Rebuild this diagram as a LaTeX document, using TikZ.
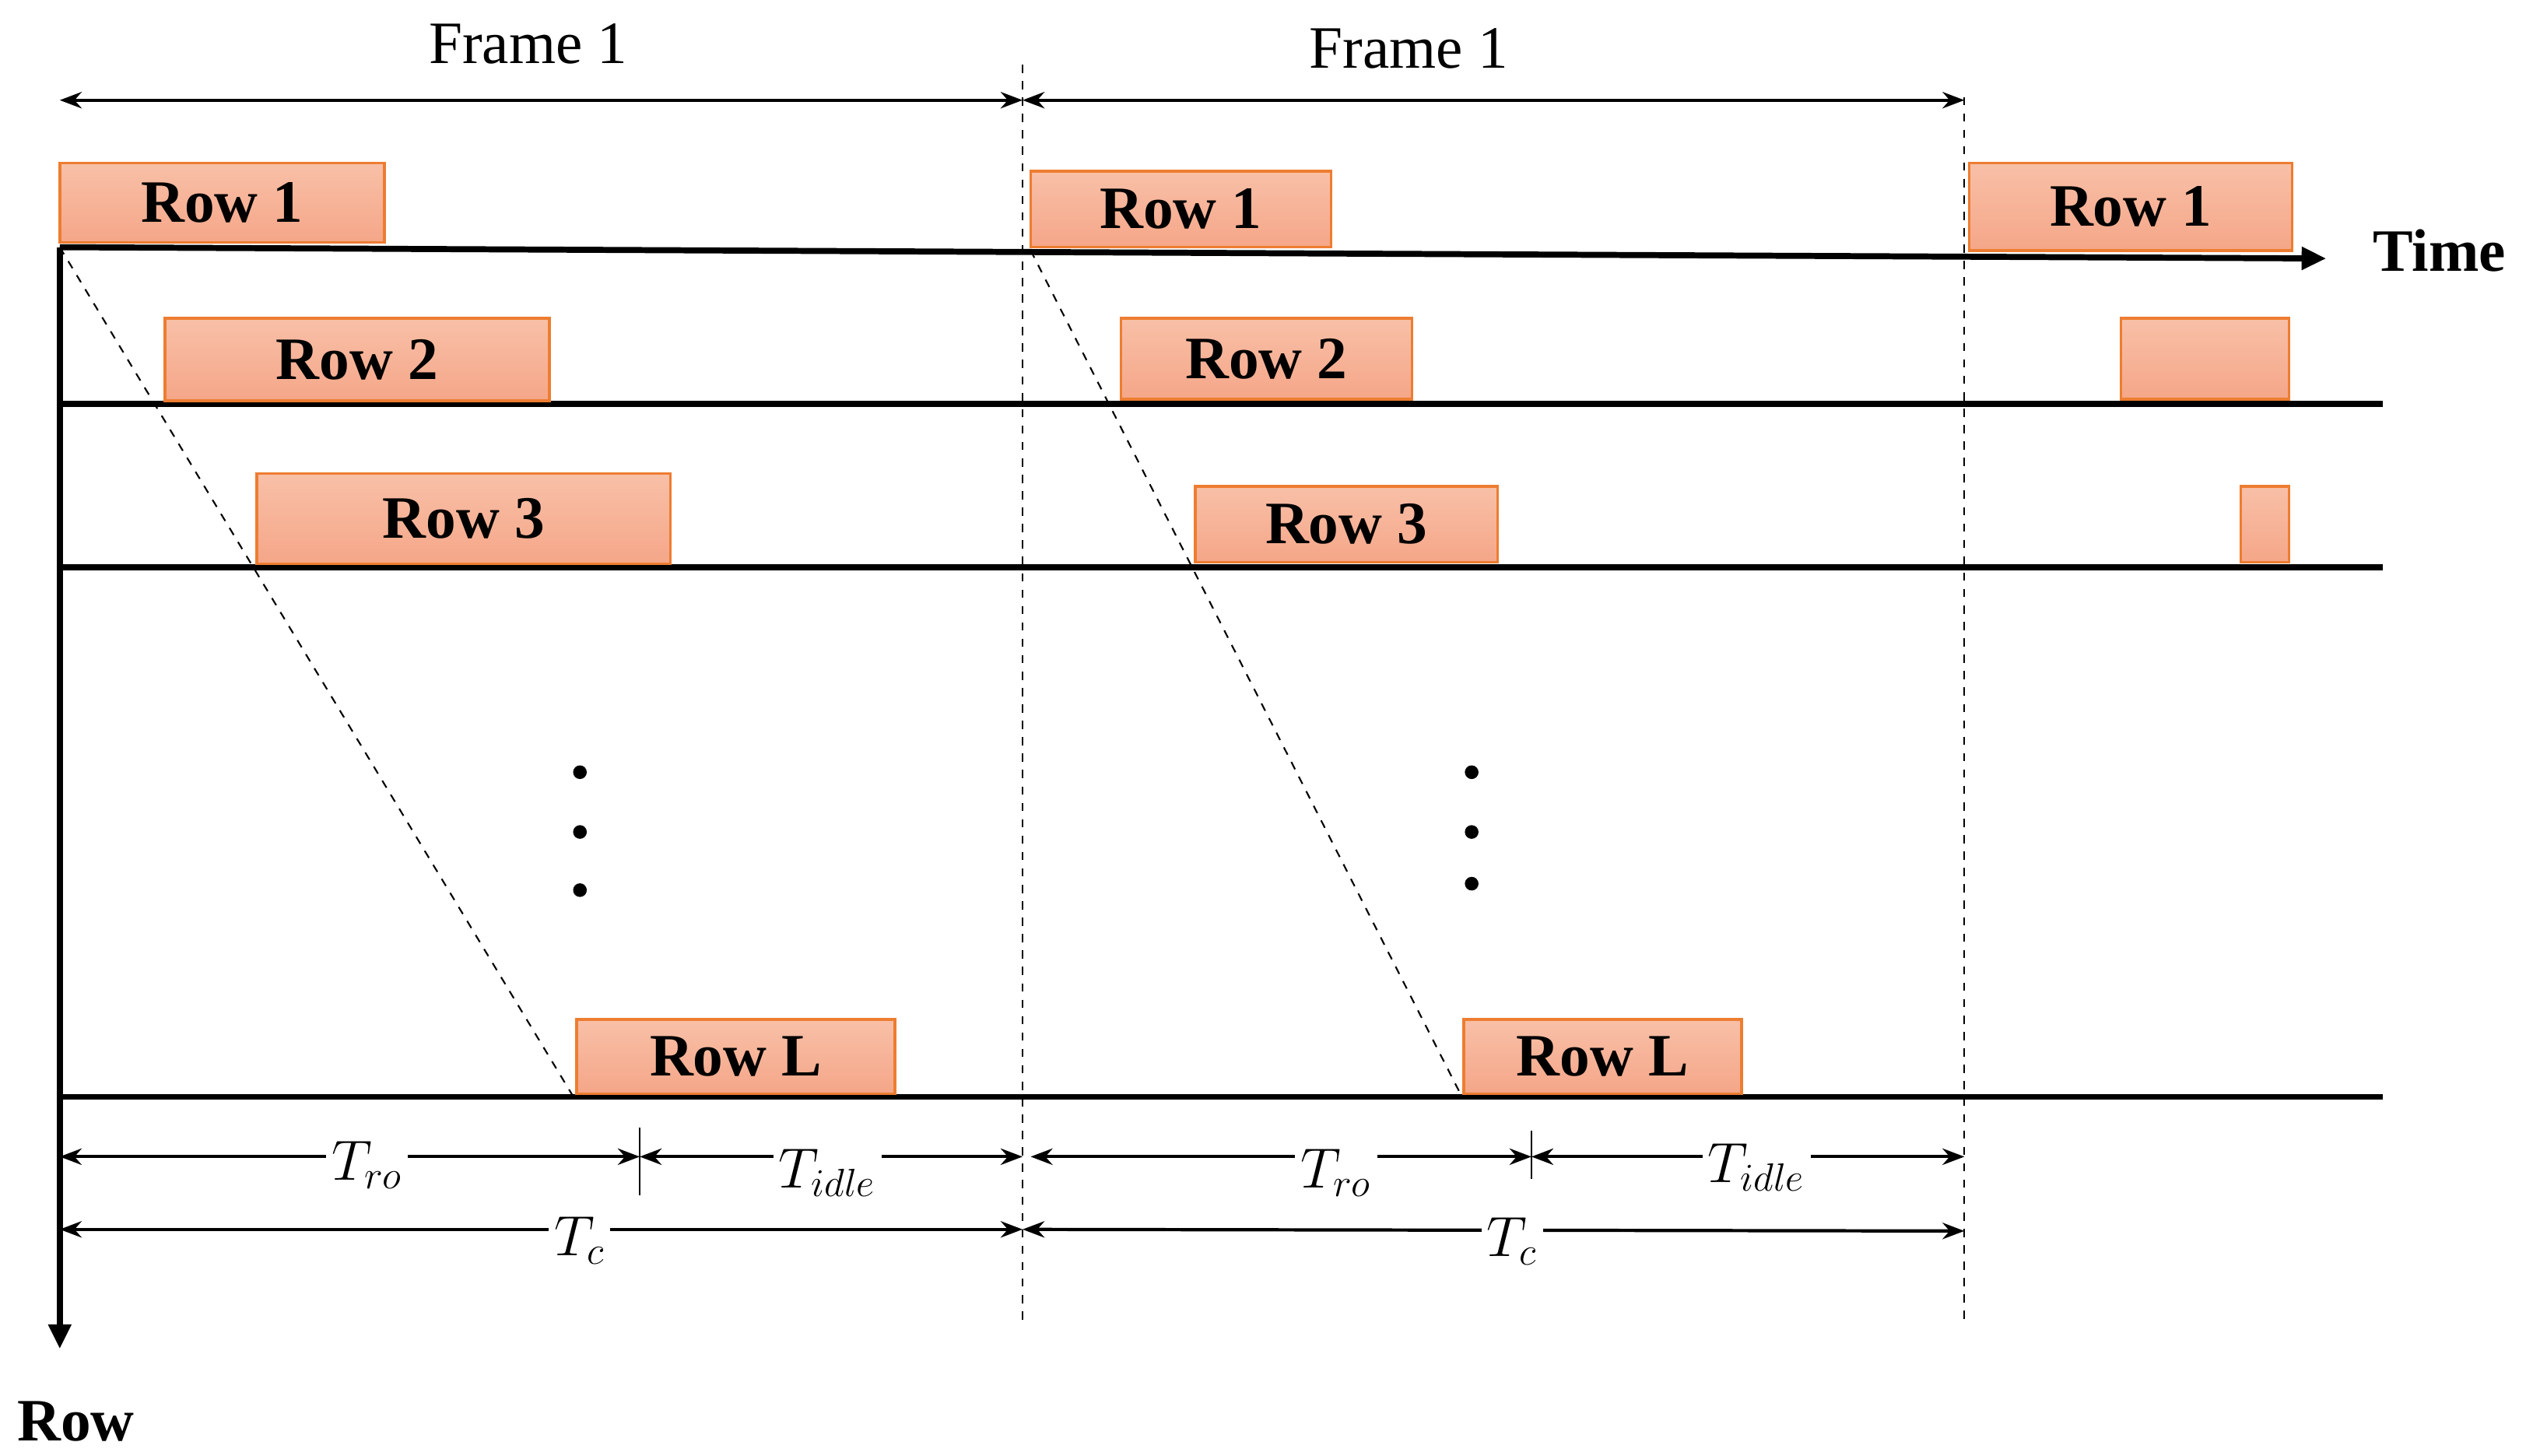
\documentclass[tikz,border=0pt]{standalone}
\usepackage{fontspec}
\setmainfont{Liberation Serif}
\usetikzlibrary{arrows.meta}
\definecolor{boxline}{RGB}{237,125,49}
\definecolor{boxtop}{RGB}{248,192,168}
\definecolor{boxbot}{RGB}{245,166,136}
\begin{document}
\begin{tikzpicture}[x=0.02076cm,y=-0.02076cm]
\tikzset{
  rowbox/.style={draw=boxline,line width=1pt,top color=boxtop,bottom color=boxbot,
    inner sep=0pt,font=\bfseries\fontsize{22}{22}\selectfont},
  axis/.style={line width=2.2pt,-{Triangle[length=9pt,width=8pt]}},
  hline/.style={line width=2.2pt},
  dim/.style={line width=1.2pt,{Stealth[length=8pt,width=6pt]}-{Stealth[length=8pt,width=6pt]}},
  lbl/.style={fill=white,inner sep=2pt,font=\fontsize{22}{22}\selectfont},
  dline/.style={dashed,line width=0.6pt},
  dot/.style={circle,fill=black,inner sep=0pt,minimum size=5pt}
}
\useasboundingbox (0,0) rectangle (1568,901);
% axes
\coordinate (o) at (37,153);
\coordinate (te) at (1440,160);
\coordinate (re) at (37,835);
\draw[axis] (o) -- (te);
\draw[axis] (o) -- (re);
\node[font=\bfseries\fontsize{22}{22}\selectfont] (time) at (1510,155) {Time};
\node[font=\bfseries\fontsize{22}{22}\selectfont] (row) at (47,880) {Row};
% row lines
\foreach \y/\n in {250/a,351/b,679/c}{
  \coordinate (l\n1) at (37,\y); \coordinate (l\n2) at (1475,\y);
  \draw[hline] (l\n1) -- (l\n2);
}
% frame boundaries
\coordinate (v1t) at (633,40); \coordinate (v1b) at (633,820);
\coordinate (v2t) at (1216,60); \coordinate (v2b) at (1216,820);
\draw[dline] (v1t) -- (v1b);
\draw[dline] (v2t) -- (v2b);
% readout diagonals
\coordinate (d1a) at (37,153); \coordinate (d1b) at (355,679);
\coordinate (d2a) at (638,155); \coordinate (d2b) at (905,679);
\draw[dline] (d1a) -- (d1b);
\draw[dline] (d2a) -- (d2b);
% boxes
\node[rowbox,minimum width=201*0.02076cm,minimum height=49*0.02076cm] (r11) at (137.5,125.5) {Row 1};
\node[rowbox,minimum width=238*0.02076cm,minimum height=51*0.02076cm] (r12) at (221,222.5) {Row 2};
\node[rowbox,minimum width=256*0.02076cm,minimum height=56*0.02076cm] (r13) at (287,321) {Row 3};
\node[rowbox,minimum width=197*0.02076cm,minimum height=46*0.02076cm] (r1L) at (455.5,654) {Row L};
\node[rowbox,minimum width=186*0.02076cm,minimum height=47*0.02076cm] (r21) at (731,129.5) {Row 1};
\node[rowbox,minimum width=180*0.02076cm,minimum height=50*0.02076cm] (r22) at (784,222) {Row 2};
\node[rowbox,minimum width=187*0.02076cm,minimum height=47*0.02076cm] (r23) at (833.5,324.5) {Row 3};
\node[rowbox,minimum width=172*0.02076cm,minimum height=46*0.02076cm] (r2L) at (992,654) {Row L};
\node[rowbox,minimum width=200*0.02076cm,minimum height=54*0.02076cm] (r31) at (1319,128) {Row 1};
\node[rowbox,minimum width=104*0.02076cm,minimum height=50*0.02076cm] (r32) at (1365,222) {};
\node[rowbox,minimum width=30*0.02076cm,minimum height=47*0.02076cm] (r33) at (1402,324.5) {};
% dots
\foreach \y [count=\i] in {478,515,551}{\node[dot] (da\i) at (359,\y) {};}
\foreach \y [count=\i] in {478,515,547}{\node[dot] (db\i) at (911,\y) {};}
% frame arrows
\coordinate (f0) at (37,62); \coordinate (f1) at (633,62); \coordinate (f2) at (1216,62);
\draw[dim] (f0) -- (f1);
\draw[dim] (f1) -- (f2);
\node[font=\fontsize{22}{22}\selectfont] (fr1) at (327,27) {Frame 1};
\node[font=\fontsize{22}{22}\selectfont] (fr2) at (872,30) {Frame 1};
% timing dimensions
\coordinate (a0) at (37,716); \coordinate (a1) at (396,716); \coordinate (a2) at (633,716);
\coordinate (b0) at (638,716); \coordinate (b1) at (948,716); \coordinate (b2) at (1216,716);
\coordinate (t1a) at (396,698); \coordinate (t1b) at (396,740);
\coordinate (t2a) at (948,700); \coordinate (t2b) at (948,730);
\draw[line width=0.8pt] (t1a) -- (t1b);
\draw[line width=0.8pt] (t2a) -- (t2b);
\draw[dim] (a0) -- node[lbl,pos=0.53,yshift=-3pt] (tro1) {$T_{ro}$} (a1);
\draw[dim] (a1) -- node[lbl,pos=0.49,yshift=-6pt] (tid1) {$T_{idle}$} (a2);
\draw[dim] (b0) -- node[lbl,pos=0.61,yshift=-6pt] (tro2) {$T_{ro}$} (b1);
\draw[dim] (b1) -- node[lbl,pos=0.52,yshift=-4pt] (tid2) {$T_{idle}$} (b2);
\coordinate (c0) at (37,761); \coordinate (c1) at (633,761); \coordinate (c2) at (1216,762);
\draw[dim] (c0) -- node[lbl,pos=0.54,yshift=-4pt] (tc1) {$T_c$} (c1);
\draw[dim] (c1) -- node[lbl,pos=0.52,yshift=-4pt] (tc2) {$T_c$} (c2);
\end{tikzpicture}
\end{document}
